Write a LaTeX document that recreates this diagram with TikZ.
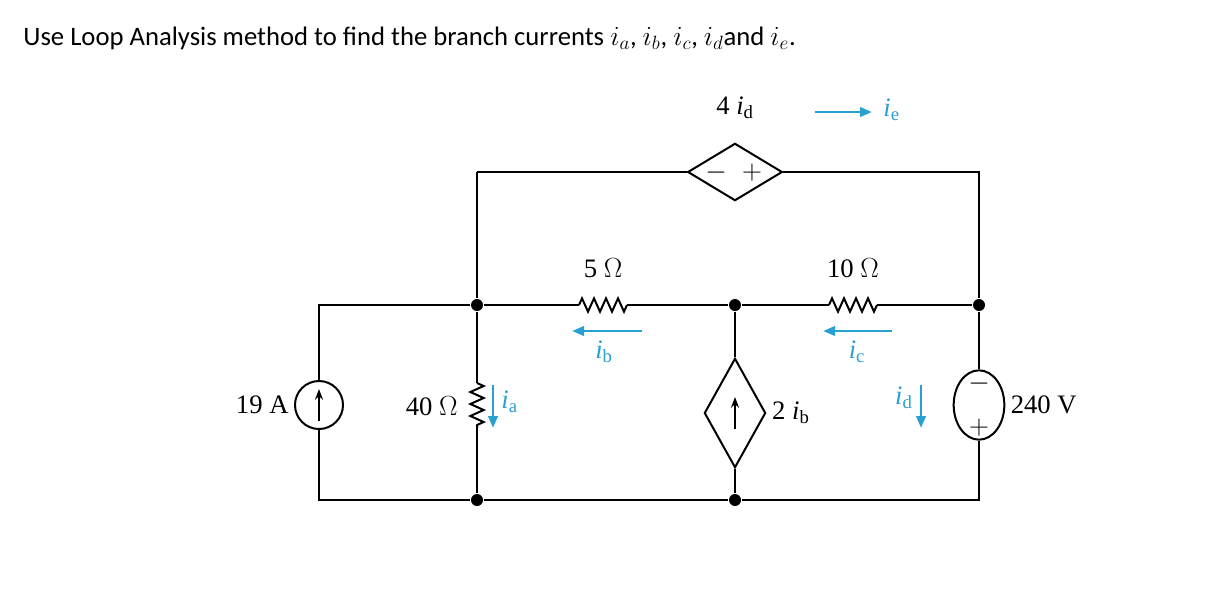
\documentclass[tikz,border=0pt]{standalone}
\usepackage{fontspec}
\setmainfont{Liberation Serif}
\newfontfamily\titlefont{Carlito}
\usetikzlibrary{shapes.geometric,arrows.meta,decorations.pathmorphing}
\definecolor{cblue}{RGB}{40,160,210}
\begin{document}
\begin{tikzpicture}[x=0.75pt,y=-0.75pt,line width=1.5pt,
  dot/.style={circle,fill,inner sep=0pt,minimum size=9pt},
  lbl/.style={font=\fontsize{20}{22}\selectfont},
  blbl/.style={font=\fontsize{20}{22}\selectfont,text=cblue},
  carr/.style={cblue,line width=2pt,-{Triangle[length=9pt,width=7pt]}},
  res/.style={decorate,decoration={zigzag,segment length=9pt,amplitude=5pt}}]
\useasboundingbox (0,0) rectangle (1232,594);
\node[anchor=west,font=\titlefont\fontsize{20}{24}\selectfont] (title) at (18,38) {Use Loop Analysis method to find the branch currents $i_a$, $i_b$, $i_c$, $i_d$and $i_e$.};
% nodes
\coordinate (tl) at (477,172); \coordinate (tr) at (979,172);
\node[dot] (n1) at (477,305) {}; \node[dot] (n2) at (735,305) {}; \node[dot] (n3) at (979,305) {};
\node[dot] (b1) at (477,500) {}; \node[dot] (b2) at (735,500) {};
\coordinate (ltop) at (319,305); \coordinate (lbot) at (319,500); \coordinate (rbot) at (979,500);
% dependent voltage source
\node[diamond,draw,minimum width=71pt,minimum height=43pt,inner sep=0pt] (dv) at (735,172) {};
\node[lbl] (dvm) at (716,173) {$-$};
\node[lbl] (dvp) at (752,173) {$+$};
\node[lbl] (dvl) at (735,108) {4 \textit{i}\textsubscript{d}};
\draw (tl) -- (dv.west); \draw (dv.east) -- (tr) -- (n3);
\draw (tl) -- (n1);
% current source
\node[circle,draw,minimum size=36pt,inner sep=0pt] (cs) at (319,405) {};
\draw[-{Stealth[length=8pt]}] ([yshift=-12pt]cs.center) -- ([yshift=12pt]cs.center);
\node[lbl,anchor=east] (csl) at (cs.west) {19 A};
\draw (n1) -- (ltop) -- (cs.north); \draw (cs.south) -- (lbot) -- (b1);
% 40 ohm
\coordinate (r4a) at (477,383); \coordinate (r4b) at (477,428);
\draw (n1) -- (r4a); \draw[res] (r4a) -- (r4b); \draw (r4b) -- (b1);
\node[lbl,anchor=east] (r4l) at (463,406) {40 $\Omega$};
\node (ia1) at (493,385) {}; \node (ia2) at (493,428) {};
\draw[carr] (ia1.center) -- (ia2.center);
\node[blbl,anchor=west] (ial) at (496,402) {\textit{i}\textsubscript{a}};
% 5 ohm
\coordinate (r5a) at (579,305); \coordinate (r5b) at (627,305);
\draw (n1) -- (r5a); \draw[res] (r5a) -- (r5b); \draw (r5b) -- (n2);
\node[lbl] (r5l) at (603,268) {5 $\Omega$};
\node (ib1) at (642,331) {}; \node (ib2) at (572,331) {};
\draw[carr] (ib1.center) -- (ib2.center);
\node[blbl] (ibl) at (604,352) {\textit{i}\textsubscript{b}};
% 10 ohm
\coordinate (r10a) at (829,305); \coordinate (r10b) at (877,305);
\draw (n2) -- (r10a); \draw[res] (r10a) -- (r10b); \draw (r10b) -- (n3);
\node[lbl] (r10l) at (853,268) {10 $\Omega$};
\node (ic1) at (892,331) {}; \node (ic2) at (823,331) {};
\draw[carr] (ic1.center) -- (ic2.center);
\node[blbl] (icl) at (857,352) {\textit{i}\textsubscript{c}};
% dependent current source
\node[diamond,draw,minimum width=46pt,minimum height=82pt,inner sep=0pt] (dc) at (735,413) {};
\draw[-{Stealth[length=8pt]}] ([yshift=-12pt]dc.center) -- ([yshift=12pt]dc.center);
\node[lbl,anchor=west] (dcl) at (dc.east) {2 \textit{i}\textsubscript{b}};
\draw (n2) -- (dc.north); \draw (dc.south) -- (b2);
% voltage source
\node[ellipse,draw,minimum width=38pt,minimum height=52pt,inner sep=0pt] (vs) at (979,405) {};
\node[lbl] (vsm) at (979,384) {$-$};
\node[lbl] (vsp) at (979,428) {$+$};
\node[lbl,anchor=west] (vsl) at (vs.east) {240 V};
\draw (n3) -- (vs.north); \draw (vs.south) -- (rbot) -- (b2) -- (b1);
\node (id1) at (921,385) {}; \node (id2) at (921,428) {};
\draw[carr] (id1.center) -- (id2.center);
\node[blbl,anchor=east] (idl) at (918,398) {\textit{i}\textsubscript{d}};
% ie
\node (ie1) at (815,112) {}; \node (ie2) at (872,112) {};
\draw[carr] (ie1.center) -- (ie2.center);
\node[blbl,anchor=west] (iel) at (878,110) {\textit{i}\textsubscript{e}};
\end{tikzpicture}
\end{document}
